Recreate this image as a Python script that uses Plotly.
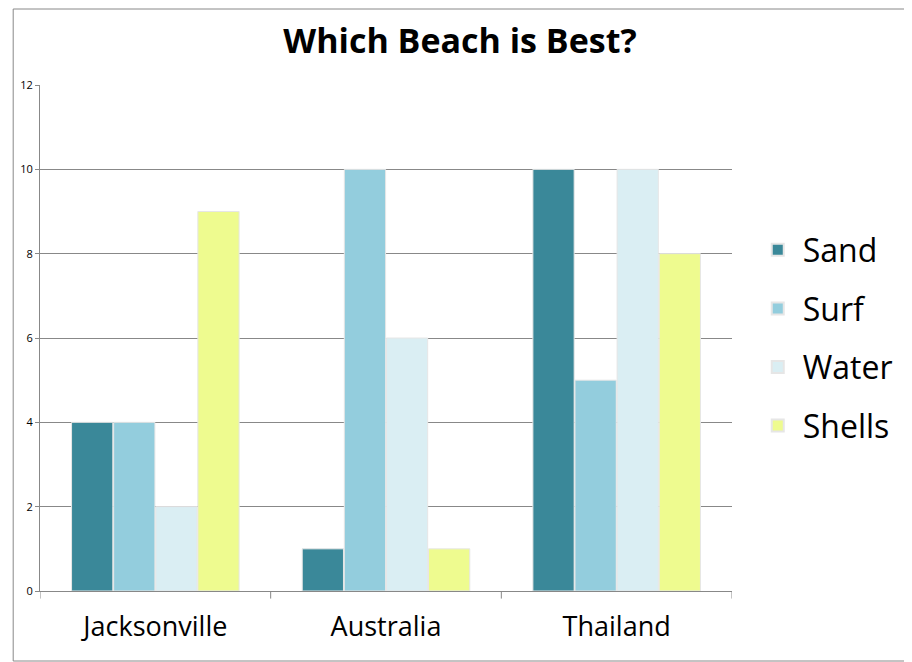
import plotly.graph_objects as go

categories = ["Jacksonville", "Australia", "Thailand"]
series = ["Sand", "Surf", "Water", "Shells"]
sand = [4, 1, 10]
surf = [4, 10, 5]
water = [2, 6, 10]
shells = [9, 1, 8]
colors = ["#3a8899", "#93cddd", "#daeef3", "#eefb8f"]
yticks = [0, 2, 4, 6, 8, 10, 12]

fig = go.Figure()
for name, vals, c in zip(series, [sand, surf, water, shells], colors):
    fig.add_bar(x=categories, y=vals, name=name, legendgroup=name,
                marker=dict(color=c, line=dict(color="#e6e6e6", width=1)))

for i in range(len(categories) + 1):
    fig.add_shape(type="line", xref="x", yref="paper", x0=i - 0.5, x1=i - 0.5, y0=0, y1=-0.015,
                  line=dict(color="#888", width=1))

fig.update_layout(
    width=904, height=654,
    margin=dict(l=27, r=180, t=77, b=71),
    paper_bgcolor="white", plot_bgcolor="white",
    title=dict(text="<b>Which Beach is Best?</b>", x=0.5, xanchor="center", y=0.95, yanchor="middle",
               font=dict(family="Open Sans", size=34, color="black")),
    barmode="group", bargap=0.27, bargroupgap=0.02,
    showlegend=True,
    legend=dict(x=1.03, y=0.5, xanchor="left", yanchor="middle", font=dict(family="Open Sans", size=32, color="black"),
                itemsizing="constant", itemwidth=40, tracegroupgap=14, traceorder="grouped"),
    xaxis=dict(tickfont=dict(family="Open Sans", size=27, color="black"), showline=True, linecolor="#888",
               ticks="", range=[-0.5, 2.5], ticklabelstandoff=12),
    yaxis=dict(range=[0, 12], tickvals=yticks, tickfont=dict(family="Open Sans", size=11, color="black"),
               showgrid=True, gridcolor="#888", gridwidth=1, showline=True, linecolor="#888",
               ticks="outside", ticklen=4, tickcolor="#888", zeroline=False),
    shapes=list(fig.layout.shapes) + [dict(type="rect", xref="paper", yref="paper", x0=-27/697, x1=1+179/697,
                                           y0=-70/506, y1=1+76/506, line=dict(color="#888", width=1))],
)
fig.write_html("out.html")
